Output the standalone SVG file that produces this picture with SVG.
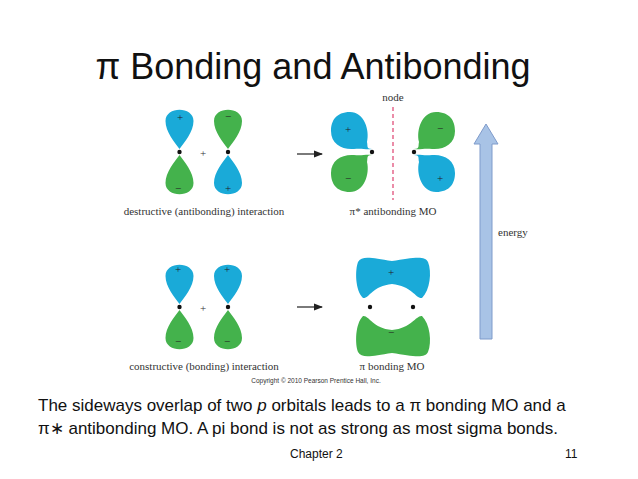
<svg xmlns="http://www.w3.org/2000/svg" width="638" height="479" viewBox="0 0 638 479">
<style>
.b{fill:#1aaad8}.g{fill:#44b24c}
.s{font-family:"Liberation Serif",serif;font-size:11px;fill:#333}
.sg{font-family:"Liberation Serif",serif;font-size:11px;fill:#222}
.n{fill:#111}
.a{font-family:"Liberation Sans",sans-serif}
</style>
<defs>
<path id="lobe" d="M0,-3 C-5,-10 -14,-20 -14,-31 C-14,-46 14,-46 14,-31 C14,-20 5,-10 0,-3 Z"/>
<path id="comma" d="M0,-3 C-6,-3 -4,-6 -5,-10 C-2,-22 -8,-40 -22,-40 C-36,-40 -41,-31 -41,-21 C-41,-8 -30,-2 -18,-3 C-10,-4 -6,-2 0,-3 Z"/>
<path id="cap" d="M-7,-9 C-15,-17 -15,-37 -12,-45 C-8,-52 2,-49 22,-46 C42,-49 55,-52 58,-45 C62,-35 60,-17 52,-9 C46,-8 42,-21 22,-23 C2,-21 -1,-8 -7,-9 Z"/>
<marker id="ah" markerWidth="8" markerHeight="6" refX="7" refY="3" orient="auto"><path d="M0,0 L8,3 L0,6 Z" fill="#222"/></marker>
</defs>
<rect width="638" height="479" fill="#fff"/>
<text class="a" x="313" y="79" font-size="36" text-anchor="middle" fill="#111">π Bonding and Antibonding</text>

<g id="destructive">
<use href="#lobe" class="b" transform="translate(179.5,152)"/>
<use href="#lobe" class="g" transform="translate(179.5,152) scale(1,-1)"/>
<use href="#lobe" class="g" transform="translate(228,152)"/>
<use href="#lobe" class="b" transform="translate(228,152) scale(1,-1)"/>
<circle class="n" cx="179.5" cy="152" r="2.2"/><circle class="n" cx="228" cy="152" r="2.2"/>
<text class="sg" x="177" y="121">+</text><text class="sg" x="225" y="120">−</text>
<text class="sg" x="175" y="192">−</text><text class="sg" x="225" y="192">+</text>
<text class="s" x="203" y="157" text-anchor="middle" fill="#888">+</text>
<text class="s" x="204" y="215" text-anchor="middle">destructive (antibonding) interaction</text>
</g>
<g id="antibonding">
<use href="#comma" class="b" transform="translate(372,152)"/>
<use href="#comma" class="g" transform="translate(372,152) scale(1,-1)"/>
<use href="#comma" class="g" transform="translate(414,152) scale(-1,1)"/>
<use href="#comma" class="b" transform="translate(414,152) scale(-1,-1)"/>
<circle class="n" cx="372" cy="152" r="2.2"/><circle class="n" cx="414" cy="152" r="2.2"/>
<line x1="393" y1="107" x2="393" y2="200" stroke="#e0507a" stroke-width="1.3" stroke-dasharray="4,3"/>
<text class="s" x="393" y="101" text-anchor="middle" fill="#e0507a">node</text>
<text class="sg" x="345" y="133">+</text><text class="sg" x="437" y="132">−</text>
<text class="sg" x="345" y="182">−</text><text class="sg" x="437" y="182">+</text>
<text class="s" x="393" y="215" text-anchor="middle">π* antibonding MO</text>
</g>
<g id="constructive">
<use href="#lobe" class="b" transform="translate(179.5,307)"/>
<use href="#lobe" class="g" transform="translate(179.5,307) scale(1,-1)"/>
<use href="#lobe" class="b" transform="translate(228,307)"/>
<use href="#lobe" class="g" transform="translate(228,307) scale(1,-1)"/>
<circle class="n" cx="179.5" cy="307" r="2.2"/><circle class="n" cx="228" cy="307" r="2.2"/>
<text class="sg" x="175" y="273">+</text><text class="sg" x="224" y="273">+</text>
<text class="sg" x="175" y="345">−</text><text class="sg" x="224" y="345">−</text>
<text class="s" x="203" y="312" text-anchor="middle" fill="#888">+</text>
<text class="s" x="204" y="370" text-anchor="middle">constructive (bonding) interaction</text>
</g>
<g id="bonding">
<use href="#cap" class="b" transform="translate(370,307)"/>
<use href="#cap" class="g" transform="translate(370,307) scale(1,-1)"/>
<circle class="n" cx="370" cy="307" r="2.2"/><circle class="n" cx="413" cy="307" r="2.2"/>
<text class="sg" x="388" y="276">+</text><text class="sg" x="388" y="336">−</text>
<text class="s" x="392" y="370" text-anchor="middle">π bonding MO</text>
</g>
<g id="connectors">
<line x1="297" y1="154" x2="322" y2="154" stroke="#222" stroke-width="1.2" marker-end="url(#ah)"/>
<line x1="297" y1="307" x2="322" y2="307" stroke="#222" stroke-width="1.2" marker-end="url(#ah)"/>
</g>
<g id="energy">
<path d="M480,339 L480,144 L474,144 L486,124 L498,144 L492,144 L492,339 Z" fill="#a8c3e6" stroke="#7f9bcb" stroke-width="1"/>
<text class="s" x="498" y="236">energy</text>
</g>
<text class="a" x="316" y="383" font-size="6.5" text-anchor="middle" fill="#333">Copyright © 2010 Pearson Prentice Hall, Inc.</text>
<text class="a" x="38" y="411" font-size="17" fill="#111">The sideways overlap of two <tspan font-style="italic">p</tspan> orbitals leads to a π bonding MO and a</text>
<text class="a" x="38" y="434" font-size="17" fill="#111">π∗ antibonding MO. A pi bond is not as strong as most sigma bonds.</text>
<text class="a" x="290" y="458" font-size="12" fill="#111">Chapter 2</text>
<text class="a" x="565" y="458" font-size="12" fill="#111">11</text>
</svg>
